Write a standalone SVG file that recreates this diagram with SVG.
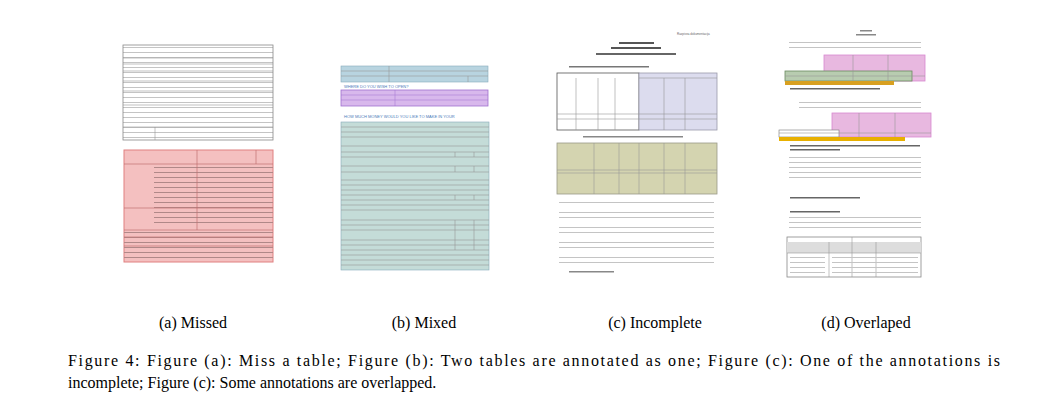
<svg xmlns="http://www.w3.org/2000/svg" width="1047" height="416" viewBox="0 0 1047 416">
<style>
.cap{font-family:"Liberation Serif",serif;font-size:16px;fill:#000}
.grid{fill:none;stroke:#999;stroke-width:0.6}
</style>
<defs>
<pattern id="lines" width="6" height="5" patternUnits="userSpaceOnUse"><rect x="0" y="2" width="6" height="1" fill="#c4c4c4"/></pattern>
<pattern id="linesD" width="6" height="5" patternUnits="userSpaceOnUse"><rect x="0" y="2" width="6" height="1" fill="#b08888"/></pattern>
</defs>
<rect width="1047" height="416" fill="#fff"/>
<g id="panel-a">
<rect x="123" y="45" width="150" height="95" fill="url(#lines)" stroke="#888" stroke-width="0.8"/>
<path class="grid" d="M123 58H273M123 64H273M123 71H273M123 81H273M123 91H273M123 105H273M123 127H273M155 127V140"/>
<rect x="124" y="150" width="149" height="112" fill="#f4c0c0" stroke="#e08080" stroke-width="1"/>
<rect x="154" y="164" width="119" height="60" fill="url(#linesD)"/>
<rect x="124" y="232" width="149" height="30" fill="url(#linesD)"/>
<path d="M124 164H273M124 208H273M124 230H273M124 237H273M124 246H273M197 150V230M256 150V164" fill="none" stroke="#c07070" stroke-width="0.7"/>
</g>
<g id="panel-b">
<rect x="341" y="66" width="147" height="16" fill="#b8d4e0" stroke="#8ab" stroke-width="0.6"/>
<path class="grid" d="M341 71H488M341 76H488M389 66V82M468 76V82"/>
<text x="344" y="88" font-family="Liberation Sans,sans-serif" font-size="4" fill="#4a7ab8">WHERE DO YOU WISH TO OPEN?</text>
<rect x="341" y="90" width="147" height="16" fill="#d8b8ec" stroke="#a070d0" stroke-width="0.8"/>
<path d="M341 95H488M341 100H488M395 90V106" fill="none" stroke="#a070d0" stroke-width="0.5"/>
<text x="344" y="118" font-family="Liberation Sans,sans-serif" font-size="4" fill="#4a7ab8">HOW MUCH MONEY WOULD YOU LIKE TO MAKE IN YOUR</text>
<rect x="341" y="122" width="148" height="148" fill="#c4dcd8" stroke="#8ab" stroke-width="0.6"/>
<path class="grid" d="M341 127H489M341 132H489M341 137H489M341 146H489M341 152H489M341 157H489M341 166H489M341 172H489M341 180H489M341 185H489M341 190H489M341 195H489M341 200H489M341 205H489M341 210H489M341 220H489M341 225H489M341 230H489M341 240H489M341 245H489M341 250H489M341 255H489M341 260H489M341 265H489M455 152V157M474 152V157M455 166V172M474 166V172M455 195V200M474 195V200M455 220V250M474 220V250"/>
</g>
<g id="panel-c">
<text x="677" y="35" font-family="Liberation Sans,sans-serif" font-size="3" fill="#666">Razpisna dokumentacija</text>
<rect x="619" y="42" width="35" height="2" fill="#555"/><rect x="611" y="47" width="50" height="2" fill="#555"/><rect x="596" y="53" width="80" height="2" fill="#666"/>
<rect x="569" y="66" width="80" height="1.5" fill="#777"/>
<rect x="557" y="73" width="82" height="57" fill="#fff" stroke="#555" stroke-width="0.8"/>
<rect x="639" y="73" width="78" height="57" fill="#dcdcee" stroke="#99a" stroke-width="0.8"/>
<path class="grid" d="M557 114H717M557 119H717M576 78V130M598 78V130M615 78V130M639 78H717M664 78V130M685 78V130"/>
<rect x="583" y="136" width="100" height="1.5" fill="#888"/>
<rect x="557" y="143" width="160" height="51" fill="#d4d4b0" stroke="#998" stroke-width="0.8"/>
<path class="grid" d="M557 170H717M557 173H717M594 143V194M619 143V194M639 143V194M664 143V194M685 143V194"/>
<rect x="559" y="198" width="155" height="9" fill="url(#lines)"/>
<rect x="559" y="210" width="155" height="12" fill="url(#lines)"/>
<rect x="559" y="225" width="155" height="12" fill="url(#lines)"/>
<rect x="559" y="240" width="155" height="12" fill="url(#lines)"/>
<rect x="559" y="256" width="155" height="8" fill="url(#lines)"/>
<rect x="569" y="271" width="45" height="1.5" fill="#888"/>
</g>
<g id="panel-d">
<rect x="860" y="30" width="12" height="1.5" fill="#888"/><rect x="856" y="34" width="20" height="1.5" fill="#888"/>
<rect x="789" y="40" width="132" height="9" fill="url(#lines)"/>
<rect x="824" y="55" width="101" height="26" fill="#e8b8e0" stroke="#d888d0" stroke-width="0.8"/>
<rect x="785" y="71" width="127" height="10" fill="#b8ccb0" stroke="#6a8a60" stroke-width="0.8"/>
<rect x="785" y="81" width="109" height="4" fill="#d8a020"/>
<path class="grid" d="M785 76H925M853 55V81M888 55V81"/>
<rect x="790" y="88" width="90" height="1.5" fill="#666"/>
<rect x="799" y="99" width="122" height="9" fill="url(#lines)"/>
<rect x="832" y="113" width="99" height="24" fill="#e8b8e0" stroke="#d888d0" stroke-width="0.8"/>
<rect x="779" y="130" width="60" height="7" fill="#fff" stroke="#777" stroke-width="0.6"/>
<rect x="779" y="137" width="126" height="4" fill="#e8b000"/>
<path class="grid" d="M779 133H931M859 113V137M895 113V137"/>
<rect x="790" y="145" width="130" height="1.5" fill="#666"/><rect x="790" y="149" width="50" height="1.5" fill="#666"/>
<rect x="789" y="157" width="132" height="22" fill="url(#lines)"/>
<rect x="790" y="197" width="70" height="1.5" fill="#666"/>
<rect x="790" y="211" width="50" height="1.5" fill="#666"/>
<rect x="789" y="214" width="132" height="17" fill="url(#lines)"/>
<rect x="787" y="237" width="134" height="40" fill="#fff" stroke="#888" stroke-width="0.8"/>
<rect x="787" y="242" width="134" height="11" fill="#ddd"/>
<path class="grid" d="M787 253H921M829 242V277M852 237V277M876 242V277"/>
<rect x="790" y="256" width="35" height="18" fill="url(#lines)"/>
<rect x="832" y="256" width="86" height="18" fill="url(#lines)"/>
</g>
<text class="cap" x="193" y="328" text-anchor="middle">(a) Missed</text>
<text class="cap" x="424" y="328" text-anchor="middle">(b) Mixed</text>
<text class="cap" x="655" y="328" text-anchor="middle">(c) Incomplete</text>
<text class="cap" x="866" y="328" text-anchor="middle">(d) Overlaped</text>
<text class="cap" x="68" y="366" textLength="932" lengthAdjust="spacing">Figure 4: Figure (a): Miss a table; Figure (b): Two tables are annotated as one; Figure (c): One of the annotations is</text>
<text class="cap" x="68" y="388">incomplete; Figure (c): Some annotations are overlapped.</text>
</svg>
